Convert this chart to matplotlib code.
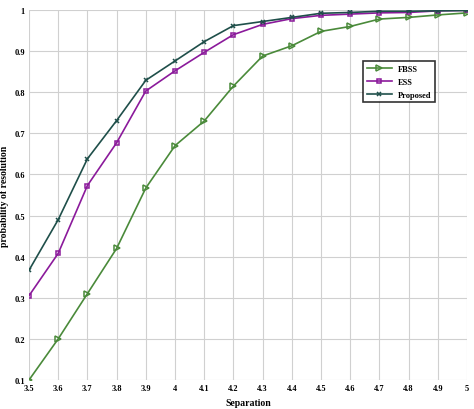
import matplotlib
matplotlib.use("Agg")
import matplotlib.pyplot as plt

x = [3.5,3.6,3.7,3.8,3.9,4.0,4.1,4.2,4.3,4.4,4.5,4.6,4.7,4.8,4.9,5.0]
fbss = [0.1,0.2,0.31,0.42,0.567,0.67,0.73,0.815,0.888,0.913,0.948,0.96,0.978,0.982,0.988,0.993]
ess = [0.305,0.408,0.573,0.677,0.803,0.852,0.897,0.94,0.965,0.979,0.987,0.99,0.993,0.994,0.998,0.999]
prop = [0.367,0.49,0.638,0.731,0.829,0.876,0.923,0.962,0.972,0.982,0.992,0.994,0.997,0.997,0.998,0.999]
xt = [3.5,3.6,3.7,3.8,3.9,4,4.1,4.2,4.3,4.4,4.5,4.6,4.7,4.8,4.9,5]
xl = ["3.5","3.6","3.7","3.8","3.9","4","4.1","4.2","4.3","4.4","4.5","4.6","4.7","4.8","4.9","5"]
yt = [0.1,0.2,0.3,0.4,0.5,0.6,0.7,0.8,0.9,1]
yl = ["0.1","0.2","0.3","0.4","0.5","0.6","0.7","0.8","0.9","1"]

plt.rcParams['font.family'] = ['Liberation Serif']
plt.rcParams['font.weight'] = 'bold'
fig = plt.figure(figsize=(4.74,4.10), dpi=100)
ax = fig.add_axes([29/474, 1-381/410, 438/474, 370/410])
ax.plot(x, fbss, color='#4a8a3a', marker='>', ms=5, mfc='none', mew=1.1, lw=1.2, label='FBSS')
ax.plot(x, ess, color='#8b1a9b', marker='s', ms=3.5, mfc='none', mew=1.1, lw=1.2, label='ESS')
ax.plot(x, prop, color='#1f4f4a', marker='x', ms=3.5, mew=1.1, lw=1.2, label='Proposed')
ax.set_xlim(3.5,5); ax.set_ylim(0.1,1)
ax.set_xticks(xt); ax.set_xticklabels(xl)
ax.set_yticks(yt); ax.set_yticklabels(yl)
ax.tick_params(labelsize=6, length=0, pad=3)
ax.grid(True, color='#d0d0d0', lw=0.8)
for s in ax.spines.values(): s.set_visible(False)
ax.set_xlabel('Separation', fontsize=7, fontweight='bold')
ax.set_ylabel('probability of resolution', fontsize=7, fontweight='bold', labelpad=4)
leg = ax.legend(loc='upper left', bbox_to_anchor=((359-29)/438, (381-58)/370), fontsize=6,
                frameon=True, fancybox=False, edgecolor='black', handlelength=3, borderpad=0.4, labelspacing=0.6)
leg.get_frame().set_linewidth(1.2)
fig.savefig('out.png', dpi=100)
